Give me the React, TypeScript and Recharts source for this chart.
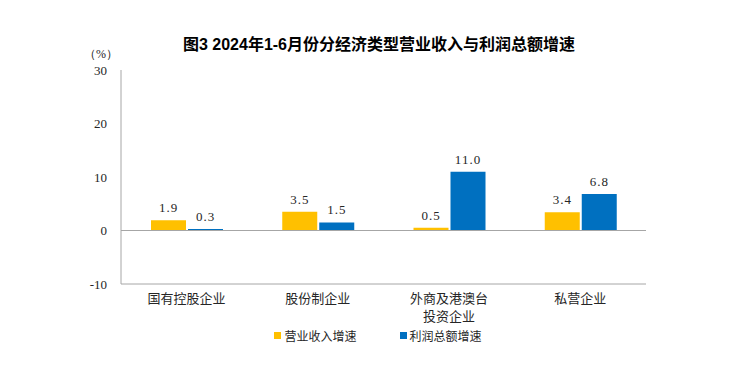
import { BarChart, Bar, XAxis, YAxis, ReferenceLine, Legend, LabelList } from "recharts"

const categories = ["国有控股企业", "股份制企业", "外商及港澳台\n投资企业", "私营企业"]
const revenueGrowth = [1.9, 3.5, 0.5, 3.4]
const profitGrowth = [0.3, 1.5, 11.0, 6.8]
const yTicks = [-10, 0, 10, 20, 30]
const seriesNames = ["营业收入增速", "利润总额增速"]

const YELLOW = "#FFC000"
const BLUE = "#0070C0"
const AXIS = "#A6A6A6"
const SERIF = "'Liberation Serif', 'Times New Roman', serif"
const CJK = "'Noto Sans CJK SC', sans-serif"

const data = categories.map((name, i) => ({
  name,
  revenue: revenueGrowth[i],
  profit: profitGrowth[i],
}))

function CategoryTick({ x, y, payload }: any) {
  const lines = String(payload.value).split("\n")
  return (
    <text x={x} y={y} textAnchor="middle" fill="#262626" fontSize={13} fontFamily={CJK}>
      {lines.map((line, i) => (
        <tspan key={i} x={x} dy={i === 0 ? 11 : 18}>
          {line}
        </tspan>
      ))}
    </text>
  )
}

function LegendContent() {
  const colors = [YELLOW, BLUE]
  return (
    <div style={{ display: "flex", justifyContent: "center", gap: 43, paddingLeft: 6, fontFamily: CJK, fontSize: 12, color: "#262626" }}>
      {seriesNames.map((s, i) => (
        <div key={s} style={{ display: "flex", alignItems: "center" }}>
          <span style={{ width: 7, height: 7, background: colors[i], display: "inline-block", marginRight: 3 }} />
          {s}
        </div>
      ))}
    </div>
  )
}

export default function App() {
  return (
    <div style={{ position: "absolute", left: 0, top: 0, width: 750, height: 378, background: "#fff" }}>
      <div
        style={{
          position: "absolute",
          top: 31,
          left: 4,
          width: 750,
          textAlign: "center",
          fontFamily: "'Liberation Sans', 'Noto Sans CJK SC', sans-serif",
          fontWeight: "bold",
          fontSize: 16,
          color: "#000",
        }}
      >
        图3 2024年1-6月份分经济类型营业收入与利润总额增速
      </div>
      <BarChart
        width={750}
        height={378}
        data={data}
        margin={{ top: 70, right: 104, bottom: 35, left: 81 }}
        barCategoryGap={30}
        barGap={2}
      >
        <XAxis
          dataKey="name"
          tick={<CategoryTick />}
          tickLine={false}
          axisLine={{ stroke: AXIS }}
          interval={0}
          height={42}
        />
        <YAxis
          width={40}
          domain={[-10, 30]}
          ticks={yTicks}
          tickLine={false}
          tickSize={0}
          tickMargin={14}
          axisLine={{ stroke: AXIS }}
          tick={{ fontSize: 13, fontFamily: SERIF, fill: "#262626" }}
          label={{ value: "（%）", position: "top", offset: 12, fontSize: 12, fontFamily: SERIF, fill: "#262626" }}
        />
        <ReferenceLine y={0} stroke={AXIS} />
        <Legend
          verticalAlign="bottom"
          content={<LegendContent />}
          wrapperStyle={{ top: 327, left: 0, width: 750 }}
        />
        <Bar dataKey="revenue" name={seriesNames[0]} fill={YELLOW} isAnimationActive={false}>
          <LabelList dataKey="revenue" position="top" offset={8} formatter={(v: any) => Number(v).toFixed(1)} style={{ fontSize: 13, fontFamily: SERIF, fill: "#262626", letterSpacing: 1 }} />
        </Bar>
        <Bar dataKey="profit" name={seriesNames[1]} fill={BLUE} isAnimationActive={false}>
          <LabelList dataKey="profit" position="top" offset={8} formatter={(v: any) => Number(v).toFixed(1)} style={{ fontSize: 13, fontFamily: SERIF, fill: "#262626", letterSpacing: 1 }} />
        </Bar>
      </BarChart>
    </div>
  )
}
